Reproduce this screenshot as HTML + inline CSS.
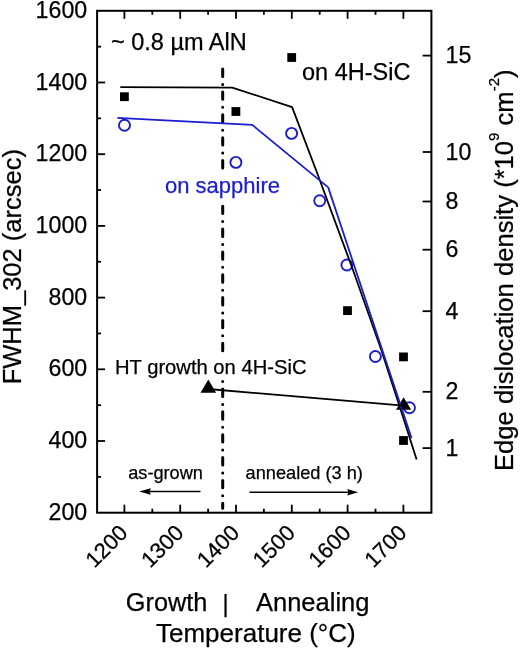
<!DOCTYPE html>
<html><head><meta charset="utf-8"><style>
html,body{margin:0;padding:0;background:#fff;}
svg{display:block;}
text{font-family:"Liberation Sans",Arial,sans-serif;fill:#000;stroke:#000;stroke-width:0.25px;}
.t22{font-size:22px;}
.t26{font-size:26px;}
.t253{font-size:25.3px;}
.t255{font-size:25.5px;}
.t256{font-size:25.6px;}
.tk{font-size:23.2px;}
.tx{font-size:22px;}
.t235{font-size:23.5px;}
.t202{font-size:20.2px;}
.t184{font-size:18.4px;}
</style></head><body>
<svg width="520" height="649" viewBox="0 0 520 649">
<rect x="97.1" y="10.8" width="334.3" height="501.9" fill="none" stroke="#000" stroke-width="2"/>
<line x1="124.40" y1="512.7" x2="124.40" y2="504.70000000000005" stroke="#000" stroke-width="1.8"/>
<line x1="124.40" y1="10.8" x2="124.40" y2="18.8" stroke="#000" stroke-width="1.8"/>
<line x1="152.30" y1="512.7" x2="152.30" y2="508.70000000000005" stroke="#000" stroke-width="1.8"/>
<line x1="152.30" y1="10.8" x2="152.30" y2="14.8" stroke="#000" stroke-width="1.8"/>
<line x1="180.20" y1="512.7" x2="180.20" y2="504.70000000000005" stroke="#000" stroke-width="1.8"/>
<line x1="180.20" y1="10.8" x2="180.20" y2="18.8" stroke="#000" stroke-width="1.8"/>
<line x1="208.10" y1="512.7" x2="208.10" y2="508.70000000000005" stroke="#000" stroke-width="1.8"/>
<line x1="208.10" y1="10.8" x2="208.10" y2="14.8" stroke="#000" stroke-width="1.8"/>
<line x1="236.00" y1="512.7" x2="236.00" y2="504.70000000000005" stroke="#000" stroke-width="1.8"/>
<line x1="236.00" y1="10.8" x2="236.00" y2="18.8" stroke="#000" stroke-width="1.8"/>
<line x1="263.90" y1="512.7" x2="263.90" y2="508.70000000000005" stroke="#000" stroke-width="1.8"/>
<line x1="263.90" y1="10.8" x2="263.90" y2="14.8" stroke="#000" stroke-width="1.8"/>
<line x1="291.80" y1="512.7" x2="291.80" y2="504.70000000000005" stroke="#000" stroke-width="1.8"/>
<line x1="291.80" y1="10.8" x2="291.80" y2="18.8" stroke="#000" stroke-width="1.8"/>
<line x1="319.70" y1="512.7" x2="319.70" y2="508.70000000000005" stroke="#000" stroke-width="1.8"/>
<line x1="319.70" y1="10.8" x2="319.70" y2="14.8" stroke="#000" stroke-width="1.8"/>
<line x1="347.60" y1="512.7" x2="347.60" y2="504.70000000000005" stroke="#000" stroke-width="1.8"/>
<line x1="347.60" y1="10.8" x2="347.60" y2="18.8" stroke="#000" stroke-width="1.8"/>
<line x1="375.50" y1="512.7" x2="375.50" y2="508.70000000000005" stroke="#000" stroke-width="1.8"/>
<line x1="375.50" y1="10.8" x2="375.50" y2="14.8" stroke="#000" stroke-width="1.8"/>
<line x1="403.40" y1="512.7" x2="403.40" y2="504.70000000000005" stroke="#000" stroke-width="1.8"/>
<line x1="403.40" y1="10.8" x2="403.40" y2="18.8" stroke="#000" stroke-width="1.8"/>
<line x1="97.1" y1="476.85" x2="101.1" y2="476.85" stroke="#000" stroke-width="1.8"/>
<line x1="97.1" y1="441.00" x2="105.1" y2="441.00" stroke="#000" stroke-width="1.8"/>
<line x1="97.1" y1="405.15" x2="101.1" y2="405.15" stroke="#000" stroke-width="1.8"/>
<line x1="97.1" y1="369.30" x2="105.1" y2="369.30" stroke="#000" stroke-width="1.8"/>
<line x1="97.1" y1="333.45" x2="101.1" y2="333.45" stroke="#000" stroke-width="1.8"/>
<line x1="97.1" y1="297.60" x2="105.1" y2="297.60" stroke="#000" stroke-width="1.8"/>
<line x1="97.1" y1="261.75" x2="101.1" y2="261.75" stroke="#000" stroke-width="1.8"/>
<line x1="97.1" y1="225.90" x2="105.1" y2="225.90" stroke="#000" stroke-width="1.8"/>
<line x1="97.1" y1="190.05" x2="101.1" y2="190.05" stroke="#000" stroke-width="1.8"/>
<line x1="97.1" y1="154.20" x2="105.1" y2="154.20" stroke="#000" stroke-width="1.8"/>
<line x1="97.1" y1="118.35" x2="101.1" y2="118.35" stroke="#000" stroke-width="1.8"/>
<line x1="97.1" y1="82.50" x2="105.1" y2="82.50" stroke="#000" stroke-width="1.8"/>
<line x1="97.1" y1="46.65" x2="101.1" y2="46.65" stroke="#000" stroke-width="1.8"/>
<text x="87.2" y="519.70" class="tk" text-anchor="end">200</text>
<text x="87.2" y="448.00" class="tk" text-anchor="end">400</text>
<text x="87.2" y="376.30" class="tk" text-anchor="end">600</text>
<text x="87.2" y="304.60" class="tk" text-anchor="end">800</text>
<text x="87.2" y="232.90" class="tk" text-anchor="end">1000</text>
<text x="87.2" y="161.20" class="tk" text-anchor="end">1200</text>
<text x="87.2" y="89.50" class="tk" text-anchor="end">1400</text>
<text x="87.2" y="17.80" class="tk" text-anchor="end">1600</text>
<line x1="431.4" y1="55.6" x2="422.6" y2="55.6" stroke="#000" stroke-width="1.8"/>
<text x="445.5" y="63.10" class="tk">15</text>
<line x1="431.4" y1="152" x2="422.6" y2="152" stroke="#000" stroke-width="1.8"/>
<text x="445.5" y="159.50" class="tk">10</text>
<line x1="431.4" y1="201.5" x2="422.6" y2="201.5" stroke="#000" stroke-width="1.8"/>
<text x="445.5" y="209.00" class="tk">8</text>
<line x1="431.4" y1="249.7" x2="422.6" y2="249.7" stroke="#000" stroke-width="1.8"/>
<text x="445.5" y="257.20" class="tk">6</text>
<line x1="431.4" y1="311.2" x2="422.6" y2="311.2" stroke="#000" stroke-width="1.8"/>
<text x="445.5" y="318.70" class="tk">4</text>
<line x1="431.4" y1="391.8" x2="422.6" y2="391.8" stroke="#000" stroke-width="1.8"/>
<text x="445.5" y="399.30" class="tk">2</text>
<line x1="431.4" y1="448.1" x2="422.6" y2="448.1" stroke="#000" stroke-width="1.8"/>
<text x="445.5" y="455.60" class="tk">1</text>
<text transform="translate(129.00,534.2) rotate(-45)" class="tx" text-anchor="end">1200</text>
<text transform="translate(184.80,534.2) rotate(-45)" class="tx" text-anchor="end">1300</text>
<text transform="translate(240.60,534.2) rotate(-45)" class="tx" text-anchor="end">1400</text>
<text transform="translate(296.40,534.2) rotate(-45)" class="tx" text-anchor="end">1500</text>
<text transform="translate(352.20,534.2) rotate(-45)" class="tx" text-anchor="end">1600</text>
<text transform="translate(408.00,534.2) rotate(-45)" class="tx" text-anchor="end">1700</text>
<text x="125.8" y="611" class="t253">Growth</text>
<text x="222.5" y="611.6" style="font-size:23.5px">|</text>
<text x="256" y="611" class="t255">Annealing</text>
<text x="156" y="641.5" class="t26">Temperature (°C)</text>
<text transform="translate(20.7,384.3) rotate(-90)" class="t255">FWHM_302 (arcsec)</text>
<text transform="translate(513,471) rotate(-90)" class="t256">Edge dislocation density (*10<tspan dy="-14" font-size="15">9</tspan><tspan dy="14"> cm</tspan><tspan dy="-14" font-size="15">-2</tspan><tspan dy="14">)</tspan></text>
<line x1="222.7" y1="69.1" x2="222.7" y2="508.3" stroke="#000" stroke-width="3" stroke-linecap="round" stroke-dasharray="7.4 8.0 0 7.45"/>
<rect x="163" y="171" width="119" height="31.5" fill="#fff"/>
<rect x="113" y="355" width="195" height="24.5" fill="#fff"/>
<text x="111" y="50" class="t235">~ 0.8 µm AlN</text>
<text x="302" y="80" class="t235">on 4H-SiC</text>
<text x="165" y="192.8" class="t22" style="fill:#1c1cd0;stroke:#1c1cd0">on sapphire</text>
<text x="115" y="373.6" class="t202">HT growth on 4H-SiC</text>
<text x="128.2" y="479.0" style="font-size:18.2px">as-grown</text>
<text x="245.6" y="478.6" style="font-size:18.2px">annealed (3 h)</text>
<line x1="146" y1="491.5" x2="200.5" y2="491.5" stroke="#000" stroke-width="1.6"/>
<path d="M139.2,491.5 L150.8,488.3 L149.6,491.5 L150.8,494.7 Z" fill="#000"/>
<line x1="249.5" y1="492.2" x2="352" y2="492.2" stroke="#000" stroke-width="1.6"/>
<path d="M358.2,492.2 L347.2,489.0 L348.4,492.2 L347.2,495.4 Z" fill="#000"/>
<rect x="120.00" y="92.30" width="8.8" height="8.8" fill="#000"/>
<rect x="231.50" y="107.10" width="8.8" height="8.8" fill="#000"/>
<rect x="287.30" y="53.10" width="8.8" height="8.8" fill="#000"/>
<rect x="343.10" y="306.20" width="8.8" height="8.8" fill="#000"/>
<rect x="399.10" y="352.50" width="8.8" height="8.8" fill="#000"/>
<rect x="399.10" y="436.10" width="8.8" height="8.8" fill="#000"/>
<circle cx="124.5" cy="125.2" r="5.5" fill="none" stroke="#1c1cd0" stroke-width="1.9"/>
<circle cx="235.9" cy="162.4" r="5.5" fill="none" stroke="#1c1cd0" stroke-width="1.9"/>
<circle cx="291.6" cy="133.4" r="5.5" fill="none" stroke="#1c1cd0" stroke-width="1.9"/>
<circle cx="319.7" cy="200.8" r="5.5" fill="none" stroke="#1c1cd0" stroke-width="1.9"/>
<circle cx="346.9" cy="265.0" r="5.5" fill="none" stroke="#1c1cd0" stroke-width="1.9"/>
<circle cx="375.4" cy="356.5" r="5.5" fill="none" stroke="#1c1cd0" stroke-width="1.9"/>
<circle cx="409.5" cy="407.7" r="5.5" fill="none" stroke="#1c1cd0" stroke-width="1.9"/>
<path d="M208.3,379.4 L216.10000000000002,392.7 L200.5,392.7 Z" fill="#000"/>
<path d="M403.6,397.3 L411.20000000000005,409.8 L396.0,409.8 Z" fill="#000"/>
<polyline points="120.3,87.2 232.3,87.6 292.1,107.1 317.9,175 353,270 381.3,350 404,420 416.6,459.5" fill="none" stroke="#000" stroke-width="1.8" stroke-linejoin="round"/>
<polyline points="117.3,117.8 252.3,124.9 328.2,187.4 411.6,438.2" fill="none" stroke="#1c1cd0" stroke-width="1.8" stroke-linejoin="round"/>
<line x1="208.3" y1="389" x2="403.6" y2="405.6" stroke="#000" stroke-width="1.8"/>
</svg>
</body></html>
